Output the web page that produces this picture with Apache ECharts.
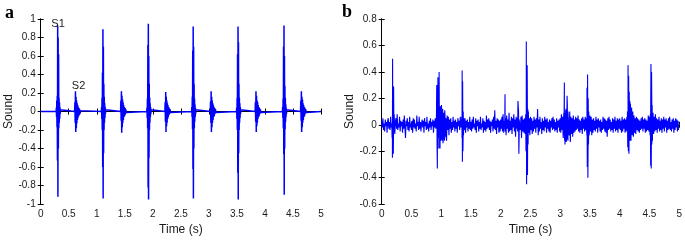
<!DOCTYPE html>
<html>
<head>
<meta charset="utf-8">
<script src="https://cdn.jsdelivr.net/npm/echarts@6/dist/echarts.min.js"></script>
<style>
html,body{margin:0;padding:0;background:#fff;}
#main{width:685px;height:241px;}
</style>
</head>
<body>
<div id="main"></div>
<script>
// panel a: heart sound, bursts sampled every dt seconds from their start time
var s1Dt = 0.004;
var s1Starts = [0.275, 1.082, 1.892, 2.692, 3.492, 4.312];
var s1Values = [
    [0,0.04,-0.06,0.12,-0.17,0.17,-0.53,0.93,-0.92,0.8,-0.4,0.62,-0.18,0.15,-0.12,0.1,-0.08,0.05,-0.03,0.02,0],
    [0,0.05,-0.08,0.15,-0.2,0.42,-0.6,0.89,-0.94,0.7,-0.45,0.3,-0.2,0.16,-0.12,0.09,-0.07,0.05,-0.03,0.02,0],
    [0,0.04,-0.07,0.14,-0.18,0.72,-0.82,0.95,-0.95,0.6,-0.5,0.3,-0.2,0.15,-0.12,0.09,-0.06,0.05,-0.03,0.02,0],
    [0,0.05,-0.06,0.16,-0.19,0.66,-0.62,0.92,-0.94,0.7,-0.4,0.3,-0.18,0.14,-0.11,0.08,-0.06,0.04,-0.03,0.02,0],
    [0,0.04,-0.08,0.15,-0.2,0.62,-0.66,0.92,-0.95,0.75,-0.45,0.3,-0.2,0.15,-0.12,0.09,-0.07,0.05,-0.03,0.02,0],
    [0,0.05,-0.07,0.14,-0.18,0.7,-0.46,0.93,-0.9,0.6,-0.4,0.28,-0.19,0.15,-0.11,0.08,-0.06,0.04,-0.03,0.02,0]
];
var s2Dt = 0.005;
var s2Starts = [0.605, 1.425, 2.215, 3.025, 3.825, 4.635];
var s2Values = [
    [0,0.1,-0.12,0.22,-0.22,0.16,-0.18,0.12,-0.13,0.09,-0.09,0.07,-0.07,0.05,-0.05,0.04,-0.04,0.03,-0.03,0.02,-0.02,0.01,0],
    [0,0.12,-0.1,0.22,-0.23,0.17,-0.17,0.13,-0.12,0.1,-0.09,0.07,-0.06,0.05,-0.05,0.04,-0.03,0.03,-0.02,0.02,-0.01,0.01,0],
    [0,0.1,-0.11,0.21,-0.22,0.16,-0.16,0.12,-0.12,0.09,-0.08,0.07,-0.06,0.05,-0.04,0.04,-0.03,0.03,-0.02,0.02,-0.01,0.01,0],
    [0,0.11,-0.12,0.22,-0.22,0.16,-0.17,0.12,-0.12,0.09,-0.09,0.07,-0.06,0.05,-0.05,0.04,-0.03,0.03,-0.02,0.02,-0.01,0.01,0],
    [0,0.1,-0.11,0.22,-0.22,0.17,-0.16,0.12,-0.12,0.1,-0.08,0.07,-0.06,0.05,-0.05,0.04,-0.03,0.03,-0.02,0.02,-0.01,0.01,0],
    [0,0.12,-0.1,0.22,-0.22,0.16,-0.17,0.13,-0.12,0.09,-0.09,0.07,-0.06,0.05,-0.05,0.04,-0.03,0.03,-0.02,0.02,-0.01,0.01,0]
];

// panel b: noisy recording, background sampled every 0.01 s
var noiseDt = 0.01;
var noiseValues = [
    0.03,-0.02,0.05,-0.04,0.01,-0.05,0.04,-0.01,0.02,-0.06,0.03,0.05,-0.03,0.02,-0.04,0.06,-0.02,0.01,-0.05,0.03,
    -0.01,0.04,-0.07,0.02,0.05,-0.03,0.08,-0.04,0.01,-0.02,0.06,-0.05,0.03,-0.01,0.02,-0.06,0.04,-0.03,0.07,-0.02,
    -0.10,0.03,-0.01,0.05,-0.04,0.02,-0.05,0.06,-0.02,0.01,
    -0.04,0.03,-0.06,0.05,-0.02,0.04,-0.03,0.01,-0.05,0.07,-0.01,0.02,-0.04,0.06,-0.03,0.02,-0.05,0.01,0.04,-0.02,
    0.03,-0.06,0.05,-0.01,0.02,-0.04,0.06,-0.03,0.01,-0.05,0.03,-0.02,0.05,-0.04,0.02,-0.01,0.04,-0.06,0.03,-0.02,
    0.05,-0.03,0.06,-0.04,0.02,-0.05,0.08,-0.07,0.10,-0.12,
    0.12,-0.10,0.08,-0.14,0.09,-0.06,0.11,-0.09,0.05,-0.12,0.07,-0.04,0.06,-0.08,0.04,-0.03,0.05,-0.06,0.02,-0.04,
    0.06,-0.02,0.03,-0.05,0.04,-0.03,0.02,-0.06,0.05,-0.01,0.03,-0.04,0.06,-0.02,0.01,-0.05,0.04,-0.03,0.02,-0.04,
    0.05,-0.06,0.03,-0.02,0.04,-0.05,0.02,-0.03,0.06,-0.04,
    0.02,-0.05,0.04,-0.03,0.06,-0.02,0.01,-0.04,0.05,-0.06,0.03,-0.01,0.04,-0.05,0.02,-0.03,0.06,-0.04,0.01,-0.02,
    0.05,-0.06,0.03,-0.04,0.02,-0.05,0.07,-0.03,0.04,-0.02,0.05,-0.04,0.03,-0.06,0.02,-0.01,0.04,-0.05,0.06,-0.03,
    0.11,-0.04,0.03,-0.07,0.05,-0.02,0.04,-0.06,0.03,-0.05,
    0.04,-0.03,0.06,-0.05,0.08,-0.06,0.03,-0.04,0.05,-0.08,0.07,-0.03,0.04,-0.06,0.09,-0.05,0.03,-0.04,0.06,-0.07,
    0.05,-0.02,0.08,-0.05,0.04,-0.09,0.06,-0.03,0.05,-0.06,0.10,-0.08,0.05,-0.04,0.06,-0.10,0.07,-0.05,0.04,-0.06,
    0.05,-0.07,0.08,-0.05,0.06,-0.09,0.07,-0.06,0.05,-0.08,
    0.06,-0.04,0.05,-0.07,0.03,-0.05,0.06,-0.03,0.04,-0.06,0.05,-0.02,0.12,-0.08,0.04,-0.05,0.06,-0.03,0.02,-0.07,
    0.05,-0.04,0.03,-0.05,0.06,-0.02,0.04,-0.06,0.05,-0.03,0.02,-0.05,0.04,-0.06,0.03,-0.02,0.05,-0.04,0.06,-0.03,
    0.04,-0.05,0.02,-0.04,0.05,-0.06,0.03,-0.02,0.04,-0.05,
    0.05,-0.06,0.08,-0.04,0.06,-0.10,0.09,-0.06,0.07,-0.14,0.12,-0.10,0.15,-0.12,0.09,-0.08,0.10,-0.13,0.06,-0.07,
    0.05,-0.09,0.07,-0.06,0.04,-0.05,0.06,-0.04,0.05,-0.03,0.07,-0.05,0.04,-0.06,0.03,-0.04,0.05,-0.07,0.06,-0.03,
    0.04,-0.05,0.06,-0.04,0.05,-0.08,0.06,-0.05,0.04,-0.06,
    0.07,-0.05,0.06,-0.08,0.04,-0.06,0.05,-0.04,0.03,-0.05,0.06,-0.03,0.04,-0.06,0.05,-0.02,0.03,-0.05,0.04,-0.06,
    0.02,-0.04,0.06,-0.03,0.05,-0.05,0.04,-0.06,0.03,-0.09,0.05,-0.04,0.06,-0.03,0.04,-0.05,0.02,-0.04,0.05,-0.06,
    0.04,-0.03,0.06,-0.05,0.03,-0.04,0.05,-0.06,0.04,-0.03,
    0.05,-0.04,0.03,-0.06,0.06,-0.05,0.04,-0.03,0.05,-0.06,0.04,-0.05,0.06,-0.04,0.09,-0.07,0.05,-0.10,0.16,-0.12,
    0.13,-0.08,0.10,-0.09,0.07,-0.06,0.05,-0.07,0.06,-0.04,0.05,-0.05,0.04,-0.06,0.03,-0.04,0.05,-0.03,0.06,-0.05,
    0.04,-0.03,0.05,-0.06,0.04,-0.05,0.03,-0.04,0.07,-0.05,
    0.06,-0.08,0.08,-0.06,0.10,-0.12,0.09,-0.07,0.06,-0.05,0.08,-0.04,0.05,-0.06,0.04,-0.03,0.06,-0.05,0.03,-0.04,
    0.05,-0.06,0.04,-0.03,0.06,-0.05,0.04,-0.02,0.05,-0.06,0.03,-0.04,0.05,-0.03,0.06,-0.04,0.02,-0.05,0.04,-0.03,
    0.05,-0.06,0.03,-0.04,0.05,-0.02,0.04,-0.05,0.03,-0.04
];
// spikes in panel b, [time, value]
var spikeEvents = [
    [0.175,-0.1],[0.18,-0.25],[0.183,0.5],[0.187,-0.2],[0.19,0.12],[0.195,-0.22],[0.2,0.29],[0.205,-0.05],[0.21,0.08],
    [0.92,0.05],[0.925,0.3],[0.93,-0.13],[0.935,-0.33],[0.94,0.22],[0.945,0.36],[0.95,-0.1],[0.955,0.1],[0.96,-0.18],
    [0.965,0.4],[0.97,-0.05],[0.975,0.12],[0.98,-0.18],[0.985,0.14],[0.995,-0.1],[1.005,0.15],[1.015,-0.12],[1.025,0.12],
    [1.035,-0.1],[1.045,0.08],[1.055,-0.12],[1.065,0.05],[1.085,-0.1],
    [1.345,0.06],[1.35,-0.1],[1.352,0.41],[1.356,-0.28],[1.36,0.33],[1.365,-0.2],[1.37,0.1],[1.375,-0.08],[1.38,0.05],
    [1.905,0.12],
    [2.068,-0.03],[2.072,0.23],[2.076,-0.05],
    [2.285,-0.05],[2.29,0.18],[2.305,-0.22],[2.31,0.04],
    [2.42,0.05],[2.425,-0.2],[2.43,0.63],[2.435,-0.45],[2.44,0.2],[2.445,0.45],[2.45,-0.38],[2.455,0.12],[2.46,-0.15],
    [2.465,0.1],[2.47,-0.06],
    [2.618,-0.03],[2.622,0.12],
    [3.065,0.05],[3.07,0.32],[3.075,-0.12],[3.08,-0.15],[3.09,0.1],[3.1,-0.13],[3.115,0.22],[3.12,-0.08],[3.13,0.1],
    [3.445,-0.05],[3.45,0.28],[3.455,-0.32],[3.46,0.38],[3.465,-0.4],[3.47,0.2],[3.475,-0.15],[3.48,0.1],[3.485,-0.08],
    [4.13,0.1],[4.135,-0.17],[4.14,0.45],[4.145,-0.2],[4.15,0.37],[4.155,-0.22],[4.16,0.25],[4.165,-0.1],[4.17,0.18],
    [4.175,-0.12],[4.18,0.12],[4.19,-0.08],
    [4.515,0.08],[4.52,-0.31],[4.525,0.46],[4.53,-0.33],[4.535,0.4],[4.54,-0.15],[4.545,0.15],[4.55,-0.08]
];

var xTicks = ['0','0.5','1','1.5','2','2.5','3','3.5','4','4.5','5'];

// build the series point lists
var dataA = [[0, 0]];
var bursts = [];
s1Starts.forEach(function (st, i) { bursts.push({start: st, dt: s1Dt, vals: s1Values[i]}); });
s2Starts.forEach(function (st, i) { bursts.push({start: st, dt: s2Dt, vals: s2Values[i]}); });
bursts.sort(function (p, q) { return p.start - q.start; });
bursts.forEach(function (b) {
    b.vals.forEach(function (v, k) { dataA.push([b.start + k * b.dt, v]); });
});
dataA.push([5, 0]);

var dataB = noiseValues.map(function (v, i) { return [i * noiseDt, v]; });
dataB = dataB.concat(spikeEvents);
dataB.sort(function (p, q) { return p[0] - q[0]; });

var font = '"Liberation Sans", Arial, sans-serif';
var txt = '#1a1a1a';

function mainX(gi) {
    return {
        type: 'value', gridIndex: gi, min: 0, max: 5, interval: 0.5,
        name: 'Time (s)', nameLocation: 'middle', nameGap: 19,
        nameTextStyle: {fontFamily: font, fontSize: 12, color: txt},
        axisLine: {lineStyle: {color: '#000', width: 1}},
        axisTick: {inside: true, length: 3, lineStyle: {color: '#000'}},
        axisLabel: {fontFamily: font, fontSize: 10, color: txt, margin: 5,
            formatter: function (v) { return xTicks[Math.round(v * 2)]; }},
        splitLine: {show: false}
    };
}
function mirrorX(gi) {
    return {
        type: 'value', gridIndex: gi, position: 'top', min: 0, max: 5, interval: 0.5,
        axisLine: {lineStyle: {color: '#000', width: 1}},
        axisTick: {inside: true, length: 3, lineStyle: {color: '#000'}},
        axisLabel: {show: false}, splitLine: {show: false}
    };
}
function mainY(gi, mn, mx) {
    return {
        type: 'value', gridIndex: gi, min: mn, max: mx, interval: 0.2,
        name: 'Sound', nameLocation: 'middle', nameGap: 25,
        nameTextStyle: {fontFamily: font, fontSize: 12, color: txt},
        axisLine: {show: true, lineStyle: {color: '#000', width: 1}},
        axisTick: {show: true, inside: true, length: 3, lineStyle: {color: '#000'}},
        axisLabel: {fontFamily: font, fontSize: 10, color: txt, margin: 5,
            formatter: function (v) { return String(Math.round(v * 10) / 10); }},
        splitLine: {show: false}
    };
}
function mirrorY(gi, mn, mx) {
    return {
        type: 'value', gridIndex: gi, position: 'right', min: mn, max: mx, interval: 0.2,
        axisLine: {show: true, lineStyle: {color: '#000', width: 1}},
        axisTick: {show: true, inside: true, length: 3, lineStyle: {color: '#000'}},
        axisLabel: {show: false}, splitLine: {show: false}
    };
}

var myChart = echarts.init(document.getElementById('main'));
var option = {
    animation: false,
    backgroundColor: '#fff',
    grid: [
        {left: 40.7, top: 19, width: 280.3, height: 186},
        {left: 381.7, top: 19, width: 300, height: 186}
    ],
    xAxis: [mainX(0), mirrorX(0), mainX(1), mirrorX(1)],
    yAxis: [mainY(0, -1, 1), mirrorY(0, -1, 1), mainY(1, -0.6, 0.8), mirrorY(1, -0.6, 0.8)],
    graphic: [
        {type: 'text', left: 5, top: 4, style: {text: 'a', font: 'bold 18px "Liberation Serif", "Times New Roman", serif', fill: '#000'}},
        {type: 'text', left: 342, top: 3, style: {text: 'b', font: 'bold 18px "Liberation Serif", "Times New Roman", serif', fill: '#000'}}
    ],
    series: [
        {
            type: 'line', xAxisIndex: 0, yAxisIndex: 0, data: dataA,
            showSymbol: false, lineStyle: {color: '#0000ff', width: 1.5},
            markPoint: {
                symbol: 'circle', symbolSize: 0,
                label: {show: true, fontFamily: font, fontSize: 11, color: txt,
                    formatter: function (p) { return p.name; }},
                data: [
                    {name: 'S1', coord: [0.31, 0.945]},
                    {name: 'S2', coord: [0.675, 0.275]}
                ]
            }
        },
        {
            type: 'line', xAxisIndex: 2, yAxisIndex: 2, data: dataB,
            showSymbol: false, lineStyle: {color: '#0000ff', width: 1.1}
        }
    ]
};
myChart.setOption(option);
</script>
</body>
</html>
